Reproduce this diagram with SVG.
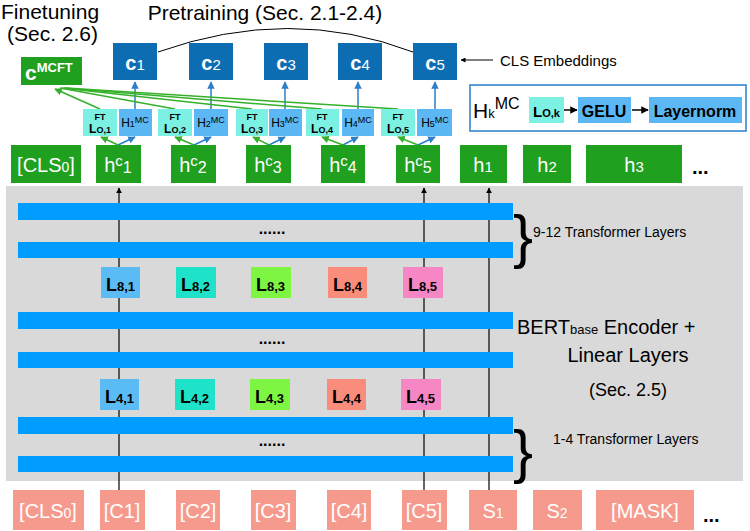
<svg xmlns="http://www.w3.org/2000/svg" width="750" height="531" viewBox="0 0 750 531">
<defs>
<style>
text{font-family:"Liberation Sans",Arial,sans-serif}
.g{fill:#1fa01f}.c{fill:#0d6db3}.h{fill:#5bb8f5}.lf{fill:#7df0e4}
.bar{fill:#009cff}
.wt{fill:#fff;font-size:20px;text-anchor:middle}
.tk{fill:#f59a8c}
</style>
<marker id="ak" viewBox="0 0 10 10" refX="9" refY="5" markerWidth="5" markerHeight="5" orient="auto"><path d="M0,0L10,5L0,10z" fill="#000"/></marker>
<marker id="ab" viewBox="0 0 10 10" refX="9" refY="5" markerWidth="5" markerHeight="5" orient="auto"><path d="M0,0L10,5L0,10z" fill="#2a7fc9"/></marker>
<marker id="ag" viewBox="0 0 10 10" refX="9" refY="5" markerWidth="5" markerHeight="5" orient="auto"><path d="M0,0L10,5L0,10z" fill="#35b02a"/></marker>
</defs>
<rect width="750" height="531" fill="#fff"/>
<rect x="6" y="186" width="737" height="295" fill="#d9d9d9"/>
<text x="1" y="19" font-size="21">Finetuning</text>
<text x="7" y="41" font-size="21">(Sec. 2.6)</text>
<text x="265" y="20" font-size="21" text-anchor="middle">Pretraining (Sec. 2.1-2.4)</text>
<g id="legend">
<rect x="470" y="85" width="276" height="46" fill="#fff" stroke="#2a7fc9" stroke-width="1.5"/>
<text x="473" y="118" font-size="21">H<tspan font-size="13">k</tspan><tspan font-size="16" dy="-9">MC</tspan></text>
<rect class="lf" x="529" y="97" width="35" height="26"/><text x="533" y="117" font-size="15" font-weight="bold">L<tspan font-size="11">O,k</tspan></text>
<rect class="h" x="578" y="97" width="53" height="26"/><text x="604" y="117" font-size="16" font-weight="bold" text-anchor="middle">GELU</text>
<rect class="h" x="649" y="97" width="93" height="26"/><text x="695" y="117" font-size="16" font-weight="bold" text-anchor="middle">Layernorm</text>
</g>
<g id="connectors" fill="none">
<path d="M158,52 Q290,5 413,52" stroke="#000" stroke-width="1"/>
<line x1="493" y1="60" x2="461" y2="60" stroke="#000" marker-end="url(#ak)"/>
<line x1="564" y1="110" x2="577" y2="110" stroke="#000" stroke-width="1.5" marker-end="url(#ak)"/>
<line x1="632" y1="110" x2="648" y2="110" stroke="#000" stroke-width="1.5" marker-end="url(#ak)"/>
<g stroke="#2a7fc9" stroke-width="1.5" marker-end="url(#ab)">
<line x1="135" y1="109" x2="135" y2="82"/><line x1="211" y1="109" x2="211" y2="82"/><line x1="285" y1="109" x2="285" y2="82"/><line x1="358" y1="109" x2="358" y2="82"/><line x1="435" y1="109" x2="435" y2="82"/>
<line x1="118" y1="145" x2="135" y2="137"/><line x1="194" y1="145" x2="211" y2="137"/><line x1="269" y1="145" x2="285" y2="137"/><line x1="343" y1="145" x2="358" y2="137"/><line x1="418" y1="145" x2="435" y2="137"/>
</g>
<g stroke="#35b02a" stroke-width="1.5">
<line x1="118" y1="145" x2="101" y2="137" marker-end="url(#ag)"/><line x1="194" y1="145" x2="175" y2="137" marker-end="url(#ag)"/><line x1="269" y1="145" x2="253" y2="137" marker-end="url(#ag)"/><line x1="343" y1="145" x2="322" y2="137" marker-end="url(#ag)"/><line x1="418" y1="145" x2="398" y2="137" marker-end="url(#ag)"/>
<line x1="100" y1="109" x2="55" y2="89" marker-end="url(#ag)"/>
<line x1="175" y1="109" x2="60" y2="88"/><line x1="252" y1="109" x2="62" y2="88"/><line x1="322" y1="109" x2="64" y2="88"/><line x1="398" y1="109" x2="66" y2="88"/>
</g>
<g stroke="#000" stroke-width="1.2">
<line x1="119" y1="490" x2="119" y2="188" marker-end="url(#ak)"/>
<line x1="424" y1="490" x2="424" y2="188" marker-end="url(#ak)"/>
<line x1="489" y1="490" x2="489" y2="188" marker-end="url(#ak)"/>
</g>
</g>
<g id="c1"><rect class="c" x="113" y="43" width="44" height="37"/><text class="wt" x="135" y="70" font-weight="bold">c<tspan font-size="15" font-weight="normal">1</tspan></text></g>
<g id="c2"><rect class="c" x="189" y="43" width="44" height="37"/><text class="wt" x="211" y="70" font-weight="bold">c<tspan font-size="15" font-weight="normal">2</tspan></text></g>
<g id="c3"><rect class="c" x="264" y="43" width="44" height="37"/><text class="wt" x="286" y="70" font-weight="bold">c<tspan font-size="15" font-weight="normal">3</tspan></text></g>
<g id="c4"><rect class="c" x="338" y="43" width="44" height="37"/><text class="wt" x="360" y="70" font-weight="bold">c<tspan font-size="15" font-weight="normal">4</tspan></text></g>
<g id="c5"><rect class="c" x="413" y="43" width="44" height="37"/><text class="wt" x="435" y="70" font-weight="bold">c<tspan font-size="15" font-weight="normal">5</tspan></text></g>
<text x="500" y="66" font-size="15">CLS Embeddings</text>
<g id="cmcft"><rect class="g" x="21" y="57" width="61" height="28"/><text x="25" y="80" fill="#fff" font-size="21" font-weight="bold">c<tspan font-size="13" dy="-8">MCFT</tspan></text></g>
<g id="small" font-size="12">
<g id="lf1"><rect class="lf" x="83" y="109" width="34" height="27"/><text x="100" y="120" font-size="9" font-weight="bold" text-anchor="middle">FT</text><text x="100" y="133" font-weight="bold" text-anchor="middle">L<tspan font-size="9">O,1</tspan></text></g>
<g id="h1mc"><rect class="h" x="119" y="109" width="33" height="27"/><text x="135" y="127" text-anchor="middle">H<tspan font-size="9">1</tspan><tspan font-size="9" dy="-4">MC</tspan></text></g>
<g id="lf2"><rect class="lf" x="158" y="109" width="34" height="27"/><text x="175" y="120" font-size="9" font-weight="bold" text-anchor="middle">FT</text><text x="175" y="133" font-weight="bold" text-anchor="middle">L<tspan font-size="9">O,2</tspan></text></g>
<g id="h2mc"><rect class="h" x="194" y="109" width="34" height="27"/><text x="211" y="127" text-anchor="middle">H<tspan font-size="9">2</tspan><tspan font-size="9" dy="-4">MC</tspan></text></g>
<g id="lf3"><rect class="lf" x="236" y="109" width="32" height="27"/><text x="252" y="120" font-size="9" font-weight="bold" text-anchor="middle">FT</text><text x="252" y="133" font-weight="bold" text-anchor="middle">L<tspan font-size="9">O,3</tspan></text></g>
<g id="h3mc"><rect class="h" x="269" y="109" width="33" height="27"/><text x="285" y="127" text-anchor="middle">H<tspan font-size="9">3</tspan><tspan font-size="9" dy="-4">MC</tspan></text></g>
<g id="lf4"><rect class="lf" x="306" y="109" width="33" height="27"/><text x="322" y="120" font-size="9" font-weight="bold" text-anchor="middle">FT</text><text x="322" y="133" font-weight="bold" text-anchor="middle">L<tspan font-size="9">O,4</tspan></text></g>
<g id="h4mc"><rect class="h" x="342" y="109" width="32" height="27"/><text x="358" y="127" text-anchor="middle">H<tspan font-size="9">4</tspan><tspan font-size="9" dy="-4">MC</tspan></text></g>
<g id="lf5"><rect class="lf" x="381" y="109" width="34" height="27"/><text x="398" y="120" font-size="9" font-weight="bold" text-anchor="middle">FT</text><text x="398" y="133" font-weight="bold" text-anchor="middle">L<tspan font-size="9">O,5</tspan></text></g>
<g id="h5mc"><rect class="h" x="417" y="109" width="35" height="27"/><text x="435" y="127" text-anchor="middle">H<tspan font-size="9">5</tspan><tspan font-size="9" dy="-4">MC</tspan></text></g>
</g>
<g id="hrow">
<g id="hcls"><rect class="g" x="11" y="145" width="70" height="38"/><text class="wt" x="46" y="172">[CLS<tspan font-size="14">0</tspan>]</text></g>
<g id="hc1"><rect class="g" x="96" y="145" width="45" height="38"/><text class="wt" x="118" y="172">h<tspan font-size="15" dy="-6">c</tspan><tspan font-size="16" dy="7">1</tspan></text></g>
<g id="hc2"><rect class="g" x="171" y="145" width="45" height="38"/><text class="wt" x="193" y="172">h<tspan font-size="15" dy="-6">c</tspan><tspan font-size="16" dy="7">2</tspan></text></g>
<g id="hc3"><rect class="g" x="246" y="145" width="45" height="38"/><text class="wt" x="268" y="172">h<tspan font-size="15" dy="-6">c</tspan><tspan font-size="16" dy="7">3</tspan></text></g>
<g id="hc4"><rect class="g" x="321" y="145" width="44" height="38"/><text class="wt" x="343" y="172">h<tspan font-size="15" dy="-6">c</tspan><tspan font-size="16" dy="7">4</tspan></text></g>
<g id="hc5"><rect class="g" x="396" y="145" width="44" height="38"/><text class="wt" x="418" y="172">h<tspan font-size="15" dy="-6">c</tspan><tspan font-size="16" dy="7">5</tspan></text></g>
<g id="h1"><rect class="g" x="460" y="145" width="47" height="38"/><text class="wt" x="483" y="172">h<tspan font-size="15">1</tspan></text></g>
<g id="h2"><rect class="g" x="523" y="145" width="48" height="38"/><text class="wt" x="547" y="172">h<tspan font-size="15">2</tspan></text></g>
<g id="h3"><rect class="g" x="586" y="145" width="96" height="38"/><text class="wt" x="634" y="172">h<tspan font-size="15">3</tspan></text></g>
<text x="692" y="174" font-size="20" font-weight="bold">...</text>
</g>
<g id="bars">
<rect class="bar" x="18" y="203" width="495" height="17"/>
<rect class="bar" x="18" y="242" width="495" height="16"/>
<rect class="bar" x="18" y="312" width="495" height="17"/>
<rect class="bar" x="18" y="352" width="495" height="16"/>
<rect class="bar" x="18" y="417" width="495" height="17"/>
<rect class="bar" x="18" y="456" width="495" height="16"/>
<g font-size="16" font-weight="bold" text-anchor="middle"><text x="272" y="234">......</text><text x="272" y="344">......</text><text x="272" y="446">......</text></g>
</g>
<g id="lin" font-size="18" font-weight="bold">
<rect fill="#5bbcf5" x="101" y="267" width="39" height="31"/><text x="106" y="291">L<tspan font-size="13">8,1</tspan></text>
<rect fill="#1ee3c8" x="176" y="267" width="40" height="31"/><text x="181" y="291">L<tspan font-size="13">8,2</tspan></text>
<rect fill="#7ef542" x="251" y="267" width="40" height="31"/><text x="256" y="291">L<tspan font-size="13">8,3</tspan></text>
<rect fill="#fa8c7c" x="328" y="267" width="39" height="31"/><text x="333" y="291">L<tspan font-size="13">8,4</tspan></text>
<rect fill="#f786c4" x="403" y="267" width="40" height="31"/><text x="408" y="291">L<tspan font-size="13">8,5</tspan></text>
<rect fill="#5bbcf5" x="100" y="379" width="39" height="31"/><text x="105" y="403">L<tspan font-size="13">4,1</tspan></text>
<rect fill="#1ee3c8" x="175" y="379" width="40" height="31"/><text x="180" y="403">L<tspan font-size="13">4,2</tspan></text>
<rect fill="#7ef542" x="250" y="379" width="40" height="31"/><text x="255" y="403">L<tspan font-size="13">4,3</tspan></text>
<rect fill="#fa8c7c" x="327" y="379" width="39" height="31"/><text x="332" y="403">L<tspan font-size="13">4,4</tspan></text>
<rect fill="#f786c4" x="401" y="379" width="40" height="31"/><text x="406" y="403">L<tspan font-size="13">4,5</tspan></text>
</g>
<g id="labels">
<text x="513" y="257" style="font-size:60px">}</text>
<text x="513" y="472" style="font-size:60px">}</text>
<text x="533" y="237" font-size="14">9-12 Transformer Layers</text>
<text x="553" y="444" font-size="14">1-4 Transformer Layers</text>
<text x="517" y="334" font-size="20">BERT<tspan font-size="13">base</tspan> Encoder +</text>
<text x="628" y="362" font-size="20" text-anchor="middle">Linear Layers</text>
<text x="628" y="396" font-size="18" text-anchor="middle">(Sec. 2.5)</text>
</g>
<g id="tokens">
<rect class="tk" x="13" y="490" width="71" height="40"/><text class="wt" x="48" y="518">[CLS<tspan font-size="14">0</tspan>]</text>
<rect class="tk" x="100" y="490" width="45" height="40"/><text class="wt" x="122" y="518">[C1]</text>
<rect class="tk" x="176" y="490" width="44" height="40"/><text class="wt" x="198" y="518">[C2]</text>
<rect class="tk" x="251" y="490" width="45" height="40"/><text class="wt" x="273" y="518">[C3]</text>
<rect class="tk" x="327" y="490" width="44" height="40"/><text class="wt" x="349" y="518">[C4]</text>
<rect class="tk" x="402" y="490" width="45" height="40"/><text class="wt" x="424" y="518">[C5]</text>
<rect class="tk" x="469" y="490" width="48" height="40"/><text class="wt" x="493" y="518">S<tspan font-size="14">1</tspan></text>
<rect class="tk" x="533" y="490" width="49" height="40"/><text class="wt" x="557" y="518">S<tspan font-size="14">2</tspan></text>
<rect class="tk" x="596" y="490" width="98" height="40"/><text class="wt" x="645" y="518">[MASK]</text>
<text x="703" y="522" font-size="20" font-weight="bold">...</text>
</g>
</svg>
